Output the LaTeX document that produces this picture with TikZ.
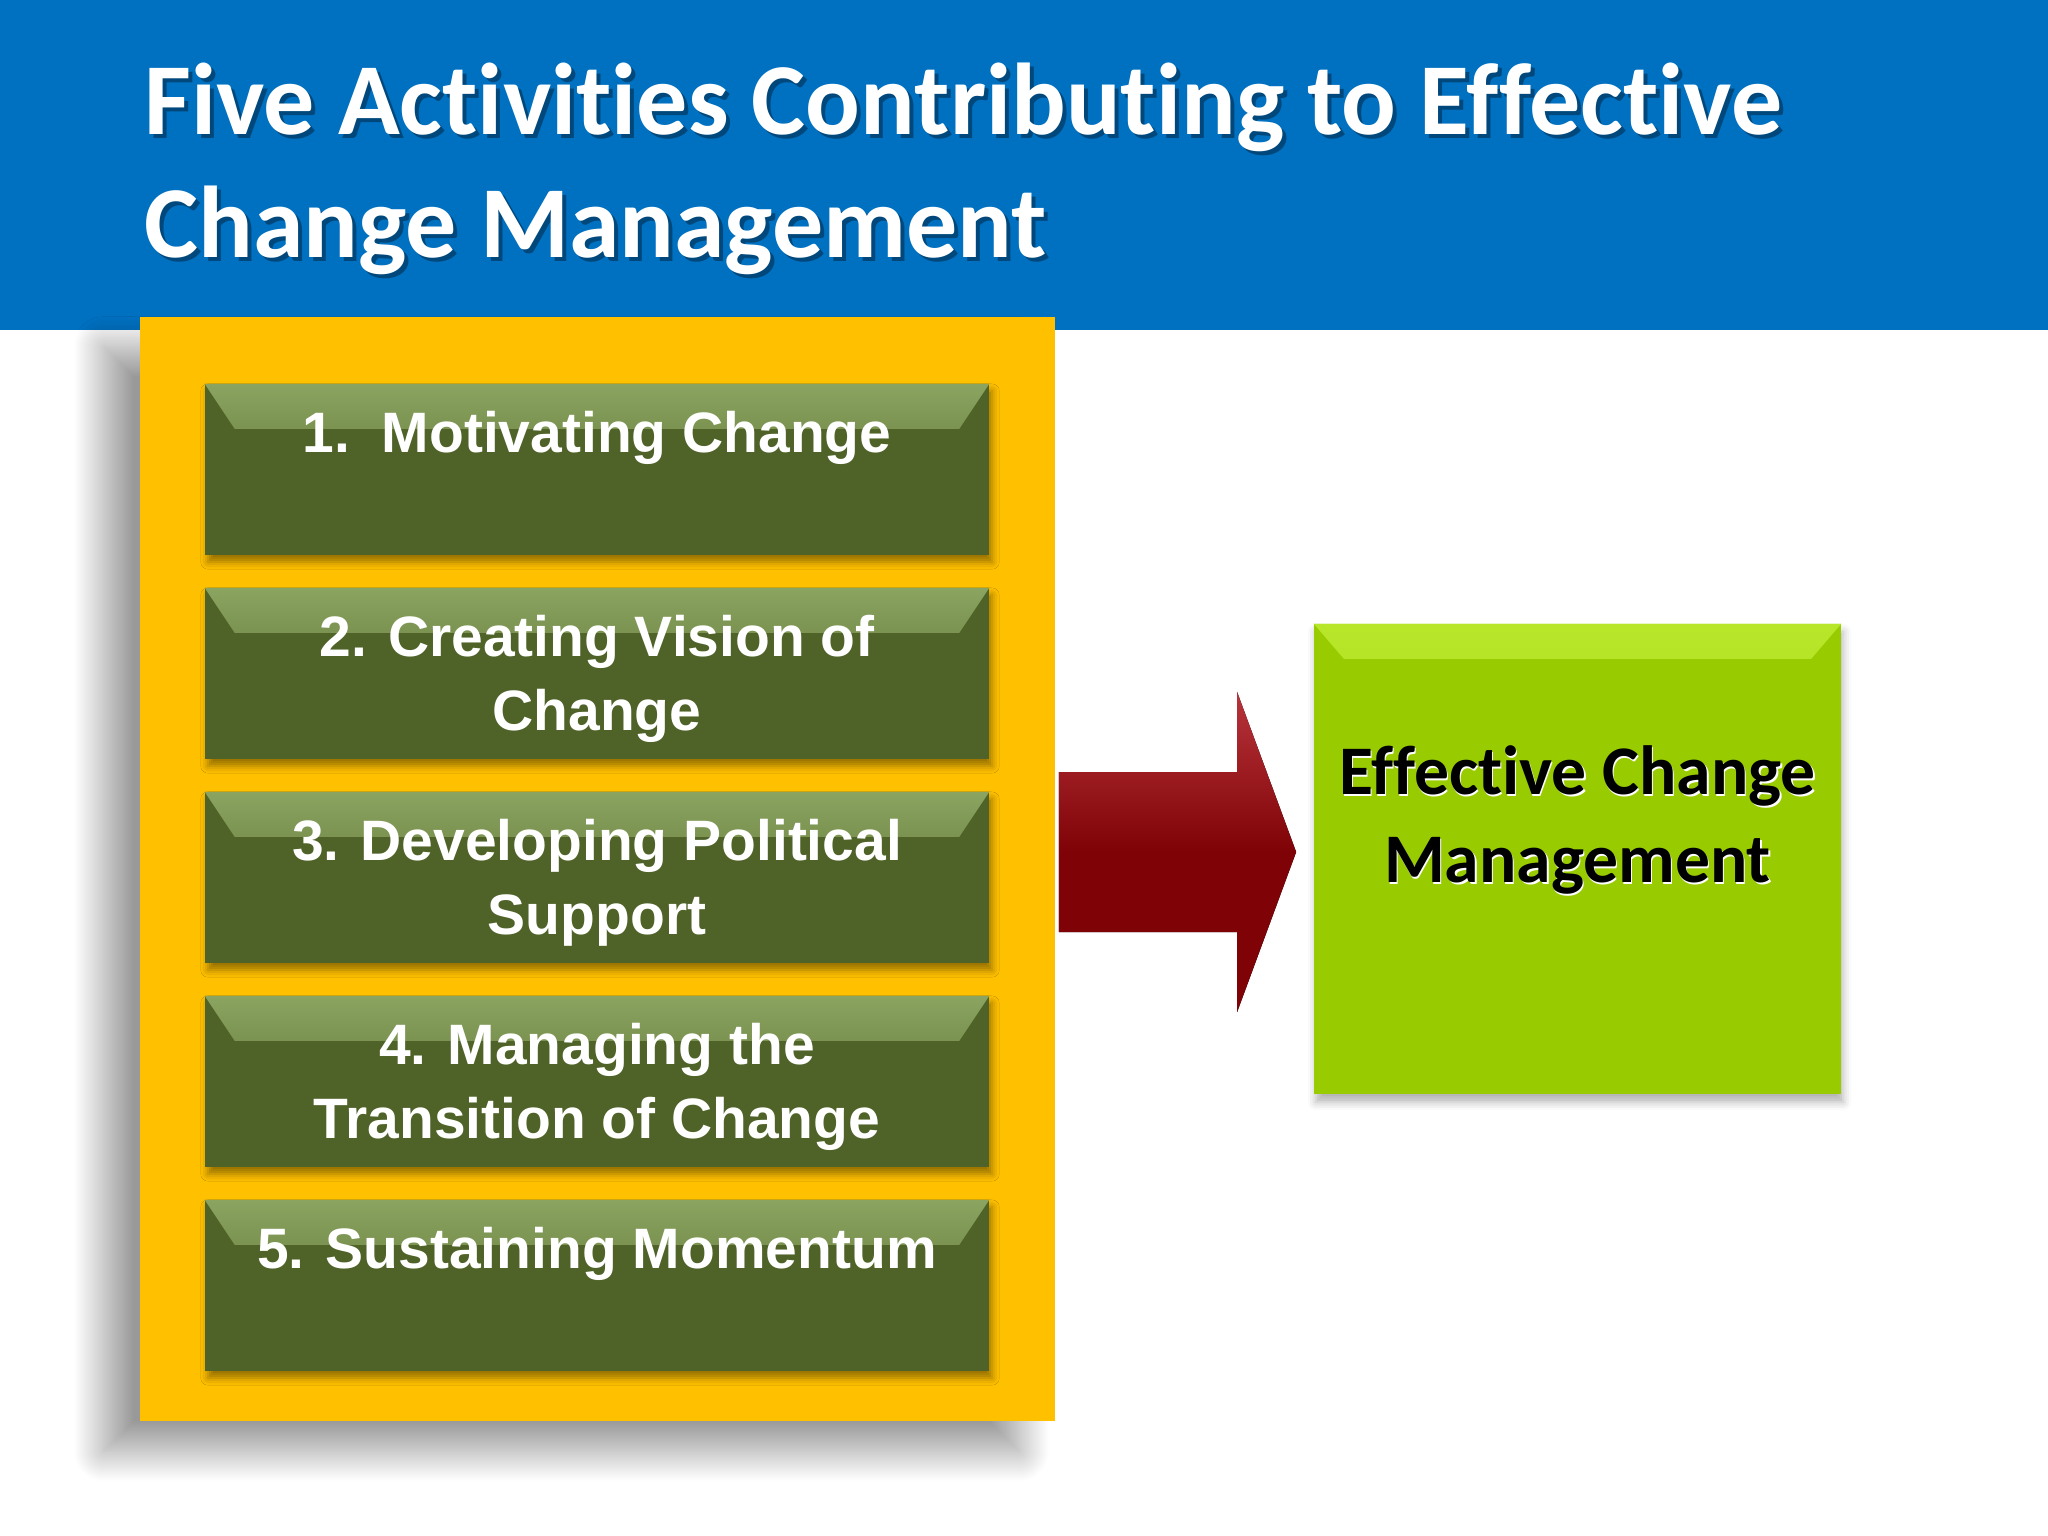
\documentclass[tikz,border=0pt]{standalone}
\usepackage{fontspec}
\newfontfamily\titlefont[Ligatures=NoCommon]{Carlito}
\newfontfamily\boxfont{Liberation Sans}
\usetikzlibrary{positioning,calc,shadows.blur}
\definecolor{bannerblue}{HTML}{0070C0}
\definecolor{panelyellow}{HTML}{FFC000}
\definecolor{actgreen}{HTML}{4F6228}
\definecolor{actlight}{HTML}{8BA460}
\definecolor{resgreen}{HTML}{99CC00}
\definecolor{reslight}{HTML}{B8E62A}
\definecolor{arrowred}{HTML}{7F0306}
\definecolor{arrowlight}{HTML}{B8343C}

\begin{document}
\begin{tikzpicture}[x=0.01cm,y=-0.01cm,
		panel/.style={rectangle,fill=panelyellow,minimum width=9.15cm,minimum height=11.04cm,inner sep=0,
			blur shadow={shadow xshift=-0.36cm,shadow yshift=-0.3cm,shadow blur radius=0.3cm,shadow blur steps=30,shadow opacity=40}},
		act/.style={rectangle,fill=actgreen,minimum width=7.84cm,minimum height=1.71cm,inner sep=0,
			blur shadow={shadow xshift=0.03cm,shadow yshift=-0.07cm,shadow blur radius=0.07cm,shadow opacity=40},
			path picture={\fill[top color=actlight,bottom color=actgreen]
				(path picture bounding box.north west) -- (path picture bounding box.north east)
				-- ([xshift=-0.3cm,yshift=-0.45cm]path picture bounding box.north east)
				-- ([xshift=0.3cm,yshift=-0.45cm]path picture bounding box.north west) -- cycle;}},
		res/.style={rectangle,fill=resgreen,minimum width=5.27cm,minimum height=4.7cm,inner sep=0,
			blur shadow={shadow xshift=0.02cm,shadow yshift=-0.08cm,shadow blur radius=0.08cm,shadow opacity=30},
			path picture={\fill[top color=reslight,bottom color=resgreen]
				(path picture bounding box.north west) -- (path picture bounding box.north east)
				-- ([xshift=-0.3cm,yshift=-0.35cm]path picture bounding box.north east)
				-- ([xshift=0.3cm,yshift=-0.35cm]path picture bounding box.north west) -- cycle;}},
		acttext/.style={text=white,align=center,inner sep=0,font=\boxfont\bfseries\fontsize{16.2}{21}\selectfont},
		restext/.style={align=center,inner sep=0,font=\titlefont\bfseries\fontsize{19.8}{25}\selectfont},
		ttl/.style={align=left,inner sep=0,anchor=north west,font=\titlefont\bfseries\fontsize{29}{35}\selectfont}
		]
		\useasboundingbox (0,0) rectangle (2048,1536);
		\fill[bannerblue] (0,0) rectangle (2048,330);
		
		\node[ttl,text=black,opacity=.35] (tsh) at (148,66) {Five Activities Contributing to Effective\\Change Management};
		\node[ttl,text=white] (title) at (144,62) {Five Activities Contributing to Effective\\Change Management};
		
		\node[panel] (pnl) at (597.5,869) {};
		
		\node[act] (b1) at (597,469.5) {};
		\node[act] (b2) at (597,673.5) {};
		\node[act] (b3) at (597,877.5) {};
		\node[act] (b4) at (597,1081.5) {};
		\node[act] (b5) at (597,1285.5) {};
		
		\node[acttext,below=0.27cm of b1.north] (t1) {1.~~Motivating Change};
		\node[acttext,below=0.27cm of b2.north] (t2) {2. Creating Vision of\\Change};
		\node[acttext,below=0.27cm of b3.north] (t3) {3. Developing Political\\Support};
		\node[acttext,below=0.27cm of b4.north] (t4) {4. Managing the\\Transition of Change};
		\node[acttext,below=0.27cm of b5.north] (t5) {5. Sustaining Momentum};
		
		\node[res] (ecm) at (1577.5,859) {};
		\node[restext,text=white,below=1.22cm of ecm.north,xshift=0.015cm,yshift=-0.02cm] (esh) {Effective Change\\Management};
		\node[restext,text=black,below=1.22cm of ecm.north] (etx) {Effective Change\\Management};
		
		\coordinate (a0) at ($(pnl.east)+(3,-17)$);
		\coordinate (a1) at ($(ecm.west)+(-17,-7)$);
		\fill[top color=arrowlight,bottom color=arrowred,middle color=arrowred]
			($(a0)+(0,-80)$) -- ($(a1)+(-59,-80)$) -- ($(a1)+(-59,-160)$) -- (a1)
			-- ($(a1)+(-59,160)$) -- ($(a1)+(-59,80)$) -- ($(a0)+(0,80)$) -- cycle;
\end{tikzpicture}
\end{document}
